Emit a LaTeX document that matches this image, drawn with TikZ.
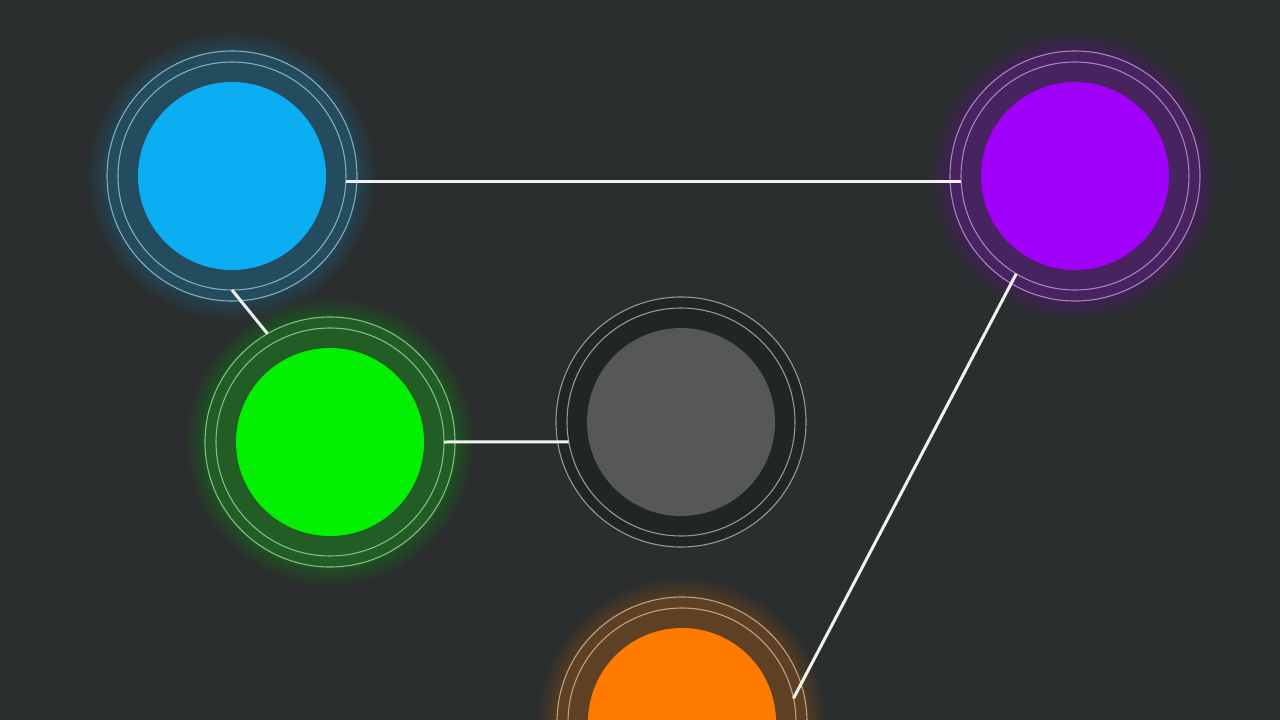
\documentclass[tikz,border=0pt]{standalone}
\usetikzlibrary{backgrounds}
\definecolor{bgcol}{HTML}{2B2E2F}
\definecolor{bluecol}{HTML}{0BAEF3}
\definecolor{purplecol}{HTML}{A100FA}
\definecolor{greencol}{HTML}{03F003}
\definecolor{graycol}{HTML}{555759}
\definecolor{orangecol}{HTML}{FF7B00}
\definecolor{linkcol}{HTML}{F2F2F2}
\begin{document}
\begin{tikzpicture}[x=1pt,y=-1pt]
            \tikzstyle{core}=[circle,inner sep=0pt,outer sep=0pt,minimum size=188pt]
            \tikzstyle{ring}=[circle,inner sep=0pt,outer sep=0pt,line width=1.1pt]
            \tikzstyle{link}=[draw=linkcol,line width=3pt]
            \fill[bgcol] (0,0) rectangle (1280,720);
            \clip (0,0) rectangle (1280,720);
            % glow, band, two rings and the disc of each light
            \foreach \n/\c/\x/\y/\g/\b in {blue/bluecol/232/176/0.03/24,
                                           purple/purplecol/1075/176/0.03/24,
                                           green/greencol/330/442/0.03/24,
                                           gray/graycol/681/422/0/0,
                                           orange/orangecol/682/722/0.03/24}{
                \foreach \r in {143,140,...,126}
                    \fill[\c,opacity=\g] (\x,\y) circle (\r);
                \fill[\c!\b!black!20!bgcol] (\x,\y) circle (125);
                \ifnum\b>0 \fill[\c!\b!bgcol] (\x,\y) circle (125); \fi
                \node[ring,draw=\c!35!white!70!bgcol,minimum size=250pt] (\n-out) at (\x,\y) {};
                \node[ring,draw=\c!35!white!70!bgcol,minimum size=228pt] (\n) at (\x,\y) {};
                \node[core,fill=\c] (\n-core) at (\x,\y) {};
            }
            % connectors
            \draw[link] (blue.-3) -- (purple.183);
            \draw[link] (blue.-90) -- (green-out.120);
            \draw[link] (green.0) -- (gray.190);
            \draw[link] (purple.-121) -- (orange.12);
        \end{tikzpicture}
\end{document}
